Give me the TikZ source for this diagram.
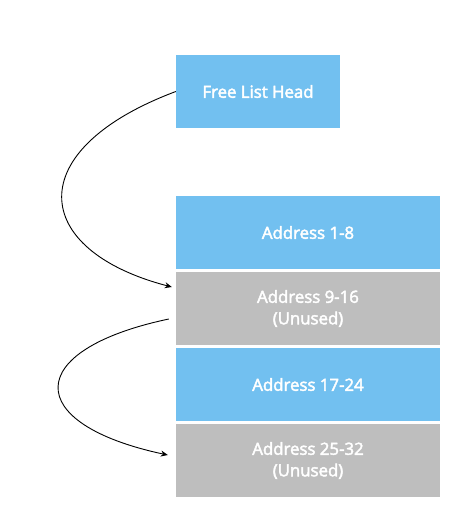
\documentclass[tikz,border=0pt]{standalone}
\usepackage{fontspec}
\setmainfont{Open Sans}
\newcommand{\heavytext}[1]{\special{pdf:literal direct 2 Tr 0.45 w}#1\special{pdf:literal direct 0 Tr}}
\usetikzlibrary{arrows.meta}
\definecolor{blk}{RGB}{114,192,240}
\definecolor{gry}{RGB}{190,190,190}
\tikzset{
  cell/.style={rectangle, inner sep=0pt, text=white, font=\fontsize{16.8}{21.5}\selectfont, align=center, minimum height=73pt},
  bluecell/.style={cell, fill=blk},
  graycell/.style={cell, fill=gry},
  link/.style={draw=black, line width=0.9pt, -{Stealth[length=7pt,width=6pt]}}
}
\begin{document}
\begin{tikzpicture}[x=1pt,y=-1pt]
\useasboundingbox[fill=white] (0,0) rectangle (474,531);
\node[bluecell, minimum width=164pt] (head) at (258,91.5) {\heavytext{Free List Head}};
\node[bluecell, minimum width=264pt] (b1) at (308,232.5) {\heavytext{Address 1-8}};
\node[graycell, minimum width=264pt] (b2) at (308,308.5) {\heavytext{Address 9-16}\\\heavytext{(Unused)}};
\node[bluecell, minimum width=264pt] (b3) at (308,384.5) {\heavytext{Address 17-24}};
\node[graycell, minimum width=264pt] (b4) at (308,460.5) {\heavytext{Address 25-32}\\\heavytext{(Unused)}};
\draw[link] (head.west) .. controls (20,150) and (30,250) .. ([xshift=-4pt,yshift=21.5pt]b2.west);
\draw[link] ([xshift=-7pt,yshift=-10.5pt]b2.west) .. controls (22,350) and (22,424) .. ([xshift=-8pt,yshift=5.5pt]b4.west);
\end{tikzpicture}
\end{document}
